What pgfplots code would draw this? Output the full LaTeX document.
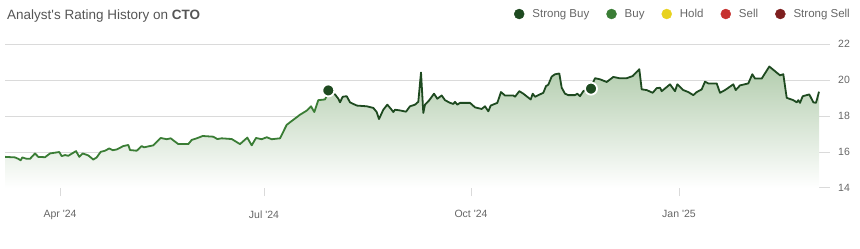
\documentclass[border=0pt]{standalone}
\usepackage{fontspec}
\setmainfont{Liberation Sans}
\usepackage{pgfplots}
\usepackage{pgfplotstable}
\pgfplotsset{compat=1.18}
\definecolor{sbuy}{HTML}{1E4A20}
\definecolor{buy}{HTML}{3A7D35}
\definecolor{hold}{HTML}{E8D21E}
\definecolor{sell}{HTML}{C6312F}
\definecolor{ssell}{HTML}{7E1F1F}
\definecolor{gridc}{HTML}{DADADA}
\definecolor{txt}{HTML}{666666}
\definecolor{ttl}{HTML}{555555}
\definecolor{filltop}{HTML}{B3CDAE}

\pgfplotstableread{
x y
5 15.73
15 15.70
18.3 15.62
20.7 15.54
22.3 15.70
26.7 15.62
30 15.62
35 15.92
38.3 15.73
45 15.71
50 15.92
59.3 16.00
61.7 15.77
65 15.83
68.3 15.79
76 16.05
79.3 15.73
82.7 15.92
88.3 15.81
93.3 15.58
96.7 15.70
100.7 16.01
105 16.07
109.3 16.20
112.7 16.10
116.7 16.14
123.3 16.33
128.3 16.39
130 16.11
136.7 16.07
141.7 16.33
144 16.26
153.3 16.37
160.7 16.78
166.7 16.71
170.7 16.76
178.3 16.44
188.3 16.44
191.7 16.67
196.7 16.76
202.7 16.89
213.3 16.85
217.3 16.72
221.7 16.76
231.7 16.72
240 16.44
247.3 16.80
251.7 16.37
256 16.78
261.7 16.71
266.7 16.82
271.7 16.71
280 16.76
283.3 17.13
286.7 17.51
293.3 17.79
300 18.07
306.7 18.30
311 18.54
314.3 18.22
318.3 18.88
325 18.92
328.3 19.30
335 19.20
338.3 18.96
340 18.76
342.7 19.07
346.7 19.10
350 18.76
356.7 18.58
366.7 18.54
373.3 18.45
376.7 18.22
379 17.83
383.3 18.35
387.3 18.63
391 18.39
393.3 18.22
395 18.35
400 18.31
406 18.24
410 18.54
415 18.63
418.3 18.79
421 20.42
423.3 18.17
425 18.63
429.3 18.88
434 19.24
437.3 18.96
441.7 19.14
445 18.88
450 18.73
453.3 18.67
455 18.79
457.3 18.63
460 18.73
470 18.73
475 18.48
481.7 18.39
485 18.54
488.3 18.26
490.7 18.58
497.3 18.73
501 19.33
505 19.14
513.3 19.14
515 19.07
519.3 19.38
523.3 19.24
530.7 18.92
532.7 19.24
535 19.07
543.3 19.29
546 19.66
548.3 19.74
551.7 20.19
555 20.32
559.3 20.36
561.7 19.57
565 19.24
568.3 19.16
575 19.16
577.3 19.24
580 19.10
583.3 19.38
591 19.60
595 20.10
600 20.04
606.7 19.89
613.3 20.17
619.3 20.10
626.7 20.10
632.7 20.22
639.3 20.60
641.7 19.48
646.7 19.44
652.7 19.29
656.7 19.55
660 19.57
661.7 19.38
670 19.76
675 19.38
677.3 19.76
683.3 19.44
688.3 19.33
693.3 19.16
696.7 19.33
701.7 19.48
705 19.91
708.3 19.81
716.7 19.81
720 19.29
725 19.44
733.3 19.76
735.7 19.44
740 19.70
748.3 19.81
752.3 20.32
755 20.08
761.7 20.08
769.3 20.75
780 20.26
783.3 20.32
786.7 19.01
793.3 18.88
796.7 18.76
798.3 18.88
800 18.73
802.7 19.10
809.3 19.20
813.3 18.76
816 18.73
819 19.35
}\pricedata

\pgfplotstableread{
x y
328.3 19.42
591 19.52
}\strongbuy

\begin{document}
\begin{tikzpicture}
\path[use as bounding box] (0,0) rectangle (860bp,249bp);
\begin{axis}[
  at={(5bp,61bp)}, anchor=south west,
  scale only axis, width=825bp, height=144bp,
  xmin=5, xmax=830, ymin=14, ymax=22,
  axis x line*=bottom, axis y line*=right,
  axis line style={draw=none},
  ymajorgrids, grid style={gridc, line width=1bp},
  ytick={14,16,18,20,22},
  yticklabel pos=right,
  ytick style={draw=none},
  xtick={60,264,471,679},
  xticklabels={Apr \textquotesingle24, Jul \textquotesingle24, Oct \textquotesingle24, Jan \textquotesingle25},
  xtick style={draw=gridc, line width=1bp},
  tick align=outside, major tick length=8bp,
  /pgf/number format/assume math mode=true,
  ticklabel style={font=\fontsize{10.5bp}{12bp}\selectfont, text=txt},
  yticklabel style={inner xsep=0pt, xshift=0bp},
  xticklabel style={yshift=-11bp},
  title={Analyst\textquotesingle s Rating History on \textbf{CTO}},
  title style={at={(axis description cs:0,1)}, anchor=west, inner sep=0pt,
    xshift=2bp, yshift=22bp, font=\fontsize{13.5bp}{15bp}\selectfont, text=ttl},
  legend columns=-1,
  legend style={draw=none, fill=none, at={(axis description cs:1,1)}, anchor=east,
    xshift=20bp, yshift=30bp, inner sep=0pt,
    font=\fontsize{11.5bp}{13bp}\selectfont, text=txt,
    nodes={inner xsep=0pt},
    /tikz/every odd column/.append style={column sep=8bp},
    /tikz/every even column/.append style={column sep=17bp}},
  legend image code/.code={\fill[#1] (0bp,0bp) circle (5bp);},
]
\addplot[draw=none, top color=filltop, bottom color=white, forget plot]
  table[x=x, y=y] {\pricedata} \closedcycle;
\addplot[buy, line width=1.8bp, line join=round, forget plot,
  restrict x to domain=0:328.31] table[x=x, y=y] {\pricedata};
\addplot[sbuy, line width=1.8bp, line join=round, forget plot,
  restrict x to domain=328.29:900] table[x=x, y=y] {\pricedata};
\addplot[only marks, mark=*, mark size=6bp, mark options={fill=sbuy, draw=white, line width=1.8bp}, forget plot]
  table[x=x, y=y] {\strongbuy};
\addlegendimage{sbuy}\addlegendentry{Strong Buy}
\addlegendimage{buy}\addlegendentry{Buy}
\addlegendimage{hold}\addlegendentry{Hold}
\addlegendimage{sell}\addlegendentry{Sell}
\addlegendimage{ssell}\addlegendentry{Strong Sell}
\end{axis}
\end{tikzpicture}
\end{document}
